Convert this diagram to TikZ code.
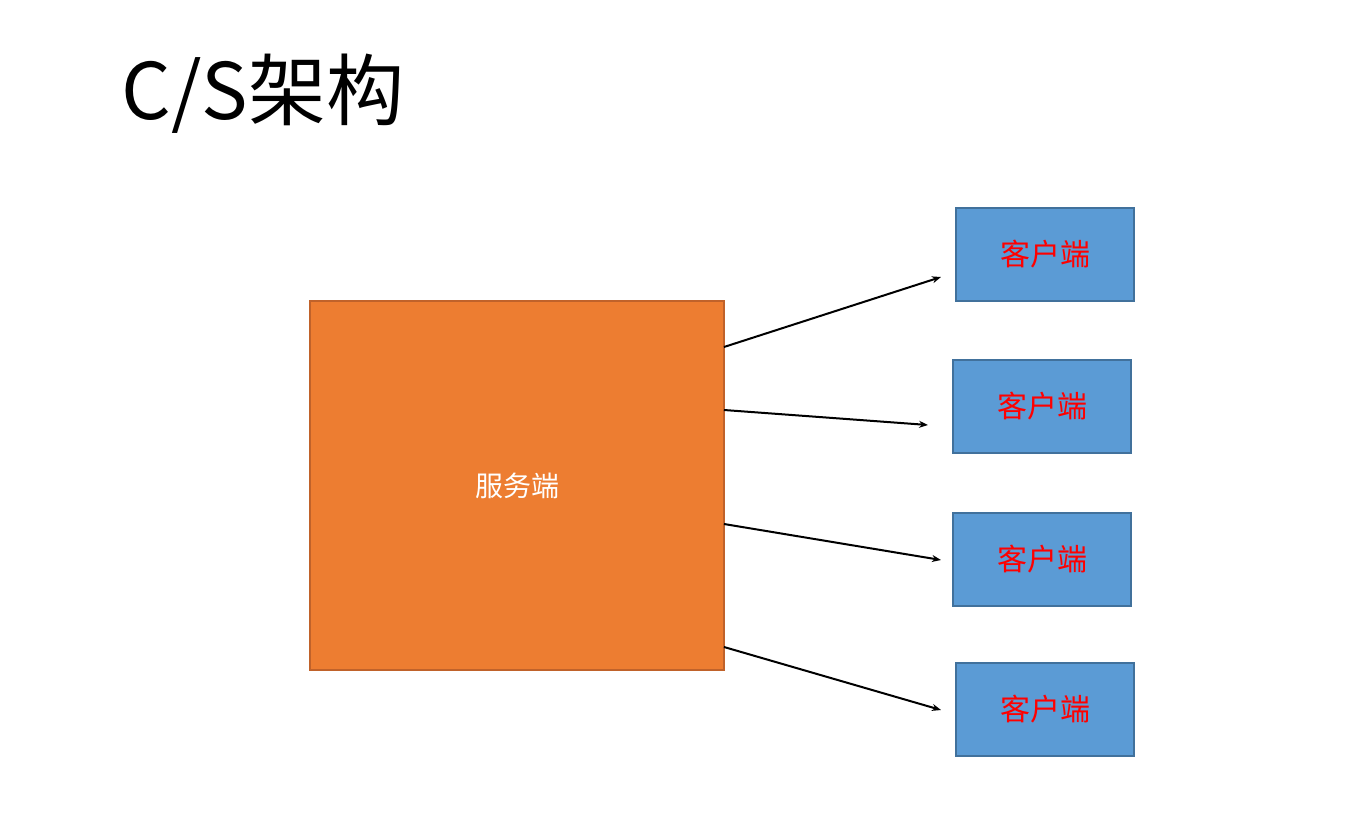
\documentclass[tikz,border=0pt]{standalone}
\usepackage{fontspec}
\setmainfont{Noto Sans CJK SC}
\newfontfamily\titlefont{Noto Sans CJK SC Light}
\usetikzlibrary{arrows.meta}
\begin{document}
\begin{tikzpicture}[x=1pt,y=-1pt,
  srvbox/.style={draw=srvline,fill=srvfill,line width=1.2pt,minimum width=414pt,minimum height=369pt,text=white,font=\fontsize{28}{32}\selectfont,inner sep=0pt},
  clibox/.style={draw=cliline,fill=clifill,line width=1.2pt,minimum width=178pt,minimum height=93pt,text=red,font=\fontsize{30}{34}\selectfont,inner sep=0pt},
  conn/.style={line width=2pt,-{Stealth[length=9pt,width=7pt]}}]
\definecolor{srvfill}{HTML}{ED7D31}
\definecolor{srvline}{HTML}{C0622A}
\definecolor{clifill}{HTML}{5B9BD5}
\definecolor{cliline}{HTML}{41719C}
\useasboundingbox (0,0) rectangle (1369,832);
\node[anchor=base west,font=\fontsize{78}{90}\selectfont] (title) at (118,120) {C/S架构};
\node[srvbox] (srv) at (517,485.5) {服务端};
\node[clibox] (c1) at (1045,254.5) {客户端};
\node[clibox] (c2) at (1042,406.5) {客户端};
\node[clibox] (c3) at (1042,559.5) {客户端};
\node[clibox] (c4) at (1045,709.5) {客户端};
\coordinate (s1) at (724,347); \coordinate (e1) at (941,277);
\coordinate (s2) at (724,410); \coordinate (e2) at (928,425);
\coordinate (s3) at (724,524); \coordinate (e3) at (941,560);
\coordinate (s4) at (724,647); \coordinate (e4) at (941,710);
\draw[conn] (s1) -- (e1);
\draw[conn] (s2) -- (e2);
\draw[conn] (s3) -- (e3);
\draw[conn] (s4) -- (e4);
\end{tikzpicture}
\end{document}
